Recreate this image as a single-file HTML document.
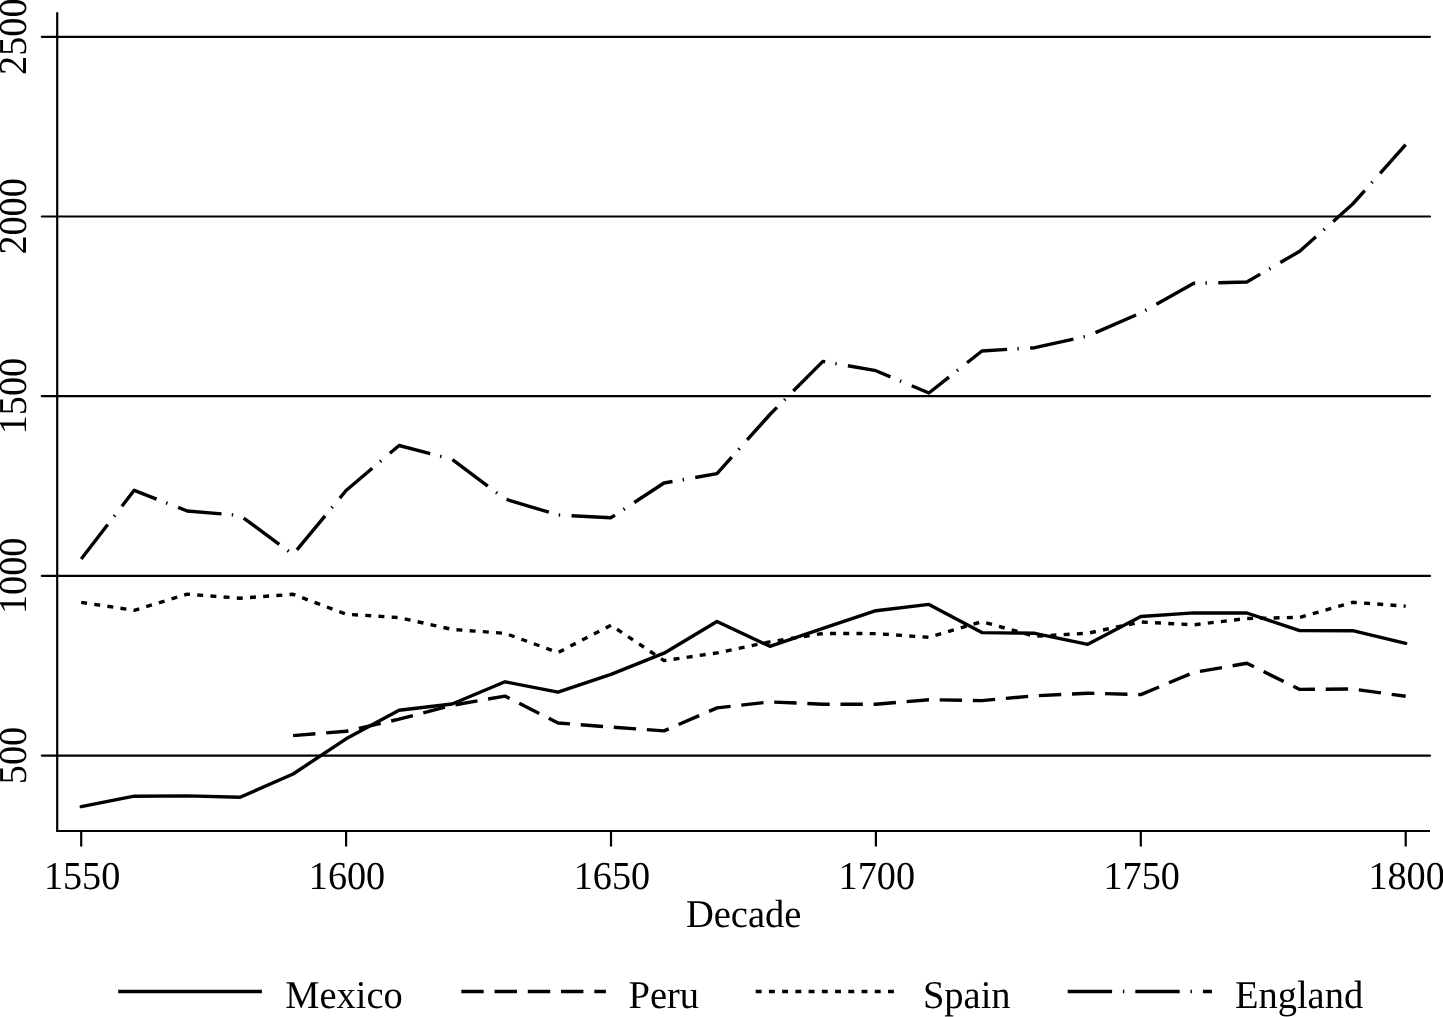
<!DOCTYPE html>
<html><head><meta charset="utf-8"><style>
html,body{margin:0;padding:0;background:#fff;}
body{width:1443px;height:1017px;overflow:hidden;}
svg{display:block;}
text{text-rendering:geometricPrecision;}
</style></head><body>
<svg width="1443" height="1017" viewBox="0 0 1443 1017">
<rect width="1443" height="1017" fill="#fff"/>
<line x1="41.8" y1="36.8" x2="1430" y2="36.8" stroke="#000" stroke-width="2.2" stroke-linecap="round"/>
<line x1="41.8" y1="216.5" x2="1430" y2="216.5" stroke="#000" stroke-width="2.2" stroke-linecap="round"/>
<line x1="41.8" y1="396.2" x2="1430" y2="396.2" stroke="#000" stroke-width="2.2" stroke-linecap="round"/>
<line x1="41.8" y1="575.9" x2="1430" y2="575.9" stroke="#000" stroke-width="2.2" stroke-linecap="round"/>
<line x1="41.8" y1="755.6" x2="1430" y2="755.6" stroke="#000" stroke-width="2.2" stroke-linecap="round"/>
<line x1="57.2" y1="12.2" x2="57.2" y2="831" stroke="#000" stroke-width="2.2" stroke-linecap="butt"/>
<line x1="56.1" y1="831" x2="1430" y2="831" stroke="#000" stroke-width="2.2" stroke-linecap="butt"/>
<line x1="81.2" y1="831" x2="81.2" y2="846.5" stroke="#000" stroke-width="2.2"/>
<line x1="346.1" y1="831" x2="346.1" y2="846.5" stroke="#000" stroke-width="2.2"/>
<line x1="611.0" y1="831" x2="611.0" y2="846.5" stroke="#000" stroke-width="2.2"/>
<line x1="875.9" y1="831" x2="875.9" y2="846.5" stroke="#000" stroke-width="2.2"/>
<line x1="1140.8" y1="831" x2="1140.8" y2="846.5" stroke="#000" stroke-width="2.2"/>
<line x1="1405.7" y1="831" x2="1405.7" y2="846.5" stroke="#000" stroke-width="2.2"/>
<text x="0" y="0" transform="translate(26.1,36.7) rotate(-90) scale(0.985,1.02)" text-anchor="middle" font-family='"Liberation Serif", "Times New Roman", serif' font-size="38.8">2500</text>
<text x="0" y="0" transform="translate(26.1,216.4) rotate(-90) scale(0.985,1.02)" text-anchor="middle" font-family='"Liberation Serif", "Times New Roman", serif' font-size="38.8">2000</text>
<text x="0" y="0" transform="translate(26.1,396.1) rotate(-90) scale(0.985,1.02)" text-anchor="middle" font-family='"Liberation Serif", "Times New Roman", serif' font-size="38.8">1500</text>
<text x="0" y="0" transform="translate(26.1,575.8) rotate(-90) scale(0.985,1.02)" text-anchor="middle" font-family='"Liberation Serif", "Times New Roman", serif' font-size="38.8">1000</text>
<text x="0" y="0" transform="translate(26.1,755.5) rotate(-90) scale(0.985,1.02)" text-anchor="middle" font-family='"Liberation Serif", "Times New Roman", serif' font-size="38.8">500</text>
<text x="0" y="0" transform="translate(82.1,888.8) scale(0.985,1.02)" text-anchor="middle" font-family='"Liberation Serif", "Times New Roman", serif' font-size="38.8">1550</text>
<text x="0" y="0" transform="translate(347.0,888.8) scale(0.985,1.02)" text-anchor="middle" font-family='"Liberation Serif", "Times New Roman", serif' font-size="38.8">1600</text>
<text x="0" y="0" transform="translate(611.9,888.8) scale(0.985,1.02)" text-anchor="middle" font-family='"Liberation Serif", "Times New Roman", serif' font-size="38.8">1650</text>
<text x="0" y="0" transform="translate(876.8,888.8) scale(0.985,1.02)" text-anchor="middle" font-family='"Liberation Serif", "Times New Roman", serif' font-size="38.8">1700</text>
<text x="0" y="0" transform="translate(1141.7,888.8) scale(0.985,1.02)" text-anchor="middle" font-family='"Liberation Serif", "Times New Roman", serif' font-size="38.8">1750</text>
<text x="0" y="0" transform="translate(1406.6,888.8) scale(0.985,1.02)" text-anchor="middle" font-family='"Liberation Serif", "Times New Roman", serif' font-size="38.8">1800</text>
<text x="0" y="0" transform="translate(743.6,926.7) scale(1,1.02)" text-anchor="middle" font-family='"Liberation Serif", "Times New Roman", serif' font-size="38.5">Decade</text>
<polyline points="81.2,806.7 134.2,796.2 187.2,795.9 240.1,797.3 293.1,774.0 346.1,738.8 399.1,710.2 452.1,704.0 505.0,681.8 558.0,692.2 611.0,674.4 664.0,653.2 717.0,621.5 769.9,646.3 822.9,628.4 875.9,610.7 928.9,604.4 981.9,632.6 1034.8,633.3 1087.8,644.3 1140.8,616.5 1193.8,612.9 1246.8,613.0 1299.7,630.6 1352.7,630.7 1405.7,643.3" fill="none" stroke="#000" stroke-width="3.4" stroke-linejoin="round" stroke-linecap="round"/>
<polyline points="293.1,735.6 346.1,731.3 399.1,719.2 452.1,705.3 505.0,696.1 558.0,723.0 611.0,727.1 664.0,730.9 717.0,707.9 769.9,701.9 822.9,704.2 875.9,704.2 928.9,699.7 981.9,700.6 1034.8,695.8 1087.8,693.2 1140.8,694.6 1193.8,672.4 1246.8,663.3 1299.7,689.4 1352.7,689.0 1405.7,696.3" fill="none" stroke="#000" stroke-width="3.4" stroke-linejoin="round" stroke-dasharray="22.38 10.76"/>
<polyline points="81.2,602.4 134.2,610.3 187.2,594.2 240.1,598.2 293.1,594.3 346.1,614.2 399.1,617.6 452.1,629.4 505.0,633.3 558.0,652.5 611.0,625.2 664.0,660.6 717.0,652.9 769.9,641.8 822.9,633.5 875.9,633.6 928.9,637.3 981.9,621.7 1034.8,636.3 1087.8,633.2 1140.8,622.0 1193.8,624.8 1246.8,618.5 1299.7,617.4 1352.7,602.3 1405.7,606.1" fill="none" stroke="#000" stroke-width="3.4" stroke-linejoin="round" stroke-dasharray="5.95 7.276"/>
<polyline points="81.2,559.0 134.2,490.3 187.2,511.0 240.1,515.5 293.1,554.5 346.1,490.5 399.1,445.5 452.1,459.3 505.0,499.0 558.0,515.0 611.0,517.7 664.0,483.0 717.0,473.7 769.9,414.5 822.9,361.4 875.9,370.7 928.9,393.0 981.9,351.0 1034.8,347.7 1087.8,336.0 1140.8,313.0 1193.8,283.3 1246.8,282.0 1299.7,251.3 1352.7,204.0 1405.7,144.6" fill="none" stroke="#000" stroke-width="3.4" stroke-linejoin="round" stroke-dasharray="44.2 10.3 1.4 11.4" stroke-dashoffset="0.7"/>
<line x1="118.2" y1="991.55" x2="261.9" y2="991.55" stroke="#000" stroke-width="3.6"/>
<line x1="461.3" y1="991.55" x2="605.9" y2="991.55" stroke="#000" stroke-width="3.4" stroke-dasharray="22.4 10.85"/>
<line x1="755.7" y1="991.55" x2="899.7" y2="991.55" stroke="#000" stroke-width="3.4" stroke-dasharray="5.9 7.33"/>
<line x1="1067.7" y1="991.55" x2="1211.9" y2="991.55" stroke="#000" stroke-width="3.4" stroke-dasharray="44.4 10.8 1.4 11"/>
<text x="0" y="0" transform="translate(285.2,1007.9) scale(1,1.025)" font-family='"Liberation Serif", "Times New Roman", serif' font-size="38.5">Mexico</text>
<text x="0" y="0" transform="translate(628.5,1007.9) scale(1,1.025)" font-family='"Liberation Serif", "Times New Roman", serif' font-size="38.5">Peru</text>
<text x="0" y="0" transform="translate(922.9,1007.9) scale(1,1.025)" font-family='"Liberation Serif", "Times New Roman", serif' font-size="38.5">Spain</text>
<text x="0" y="0" transform="translate(1234.9,1007.9) scale(1,1.025)" font-family='"Liberation Serif", "Times New Roman", serif' font-size="38.5">England</text>
</svg>
</body></html>
